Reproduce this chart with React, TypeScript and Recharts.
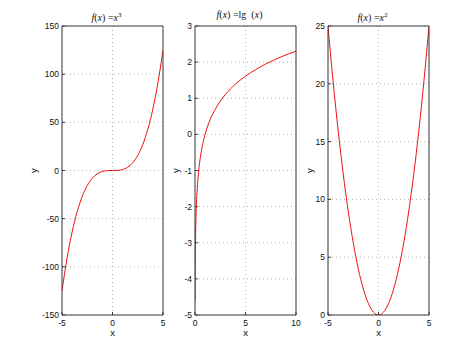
import React from 'react';
import { LineChart, Line, XAxis, YAxis, CartesianGrid } from 'recharts';

// ---- data ----
const cubeX = [-5, -4.5, -4, -3.5, -3, -2.5, -2, -1.5, -1, -0.5, 0, 0.5, 1, 1.5, 2, 2.5, 3, 3.5, 4, 4.5, 5];
const cubeY = [-125, -91.1, -64, -42.9, -27, -15.6, -8, -3.4, -1, -0.1, 0, 0.1, 1, 3.4, 8, 15.6, 27, 42.9, 64, 91.1, 125];

const logX = [0.01, 0.02, 0.05, 0.1, 0.2, 0.3, 0.5, 0.75, 1, 1.5, 2, 2.5, 3, 4, 5, 6, 7, 8, 9, 10];
const logY = [-4.61, -3.91, -3.0, -2.3, -1.61, -1.2, -0.69, -0.29, 0, 0.41, 0.69, 0.92, 1.1, 1.39, 1.61, 1.79, 1.95, 2.08, 2.2, 2.3];

const squareX = [-5, -4.5, -4, -3.5, -3, -2.5, -2, -1.5, -1, -0.5, 0, 0.5, 1, 1.5, 2, 2.5, 3, 3.5, 4, 4.5, 5];
const squareY = [25, 20.25, 16, 12.25, 9, 6.25, 4, 2.25, 1, 0.25, 0, 0.25, 1, 2.25, 4, 6.25, 9, 12.25, 16, 20.25, 25];

const cubeXTicks = [-5, 0, 5];
const cubeYTicks = [-150, -100, -50, 0, 50, 100, 150];
const logXTicks = [0, 5, 10];
const logYTicks = [-5, -4, -3, -2, -1, 0, 1, 2, 3];
const squareXTicks = [-5, 0, 5];
const squareYTicks = [0, 5, 10, 15, 20, 25];

const zip = (xs: number[], ys: number[]) => xs.map((x, i) => ({ x, y: ys[i] }));

// ---- layout ----
const W = 474;
const H = 355;
const PLOT_TOP = 26;
const PLOT_BOTTOM = 315;
const Y_AXIS_W = 40;
const X_AXIS_H = 36;

const AXIS_COLOR = '#3a3a3a';
const TICK_FONT = { fontSize: 8.5, fontFamily: '"Liberation Sans", Arial, sans-serif', fill: '#111' };

type Panel = {
  data: { x: number; y: number }[];
  xDomain: [number, number];
  yDomain: [number, number];
  xTicks: number[];
  yTicks: number[];
  left: number;
  right: number;
  yLabelGap: number;
  title: React.ReactNode;
};

const panels: Panel[] = [
  {
    data: zip(cubeX, cubeY),
    xDomain: [-5, 5],
    yDomain: [-150, 150],
    xTicks: cubeXTicks,
    yTicks: cubeYTicks,
    left: 62,
    right: 163,
    yLabelGap: 29,
    title: (
      <>
        <i>f</i>(<i>x</i>) =<i>x</i>
        <sup style={{ fontSize: 7 }}>3</sup>
      </>
    ),
  },
  {
    data: zip(logX, logY),
    xDomain: [0, 10],
    yDomain: [-5, 3],
    xTicks: logXTicks,
    yTicks: logYTicks,
    left: 195,
    right: 296,
    yLabelGap: 20,
    title: (
      <>
        <i>f</i>(<i>x</i>) =lg&nbsp;&nbsp;(<i>x</i>)
      </>
    ),
  },
  {
    data: zip(squareX, squareY),
    xDomain: [-5, 5],
    yDomain: [0, 25],
    xTicks: squareXTicks,
    yTicks: squareYTicks,
    left: 328,
    right: 429,
    yLabelGap: 19,
    title: (
      <>
        <i>f</i>(<i>x</i>) =<i>x</i>
        <sup style={{ fontSize: 7 }}>2</sup>
      </>
    ),
  },
];

const makeYLabel = (gap: number) => (props: any) => {
  const vb = props.viewBox || {};
  const x = vb.x + vb.width - gap;
  const y = vb.y + vb.height / 2;
  return (
    <text
      x={x}
      y={y}
      transform={`rotate(-90, ${x}, ${y})`}
      textAnchor="middle"
      dominantBaseline="central"
      fontSize={9.5}
      fontFamily='"Liberation Sans", Arial, sans-serif'
      fill="#111"
    >
      y
    </text>
  );
};

function PanelChart({ p }: { p: Panel }) {
  const margin = {
    top: PLOT_TOP - 1,
    bottom: H - PLOT_BOTTOM - X_AXIS_H,
    left: p.left - Y_AXIS_W,
    right: W - p.right - 1,
  };
  return (
    <div style={{ position: 'absolute', left: 0, top: 0 }}>
      <LineChart width={W} height={H} data={p.data} margin={margin}>
        <CartesianGrid stroke="#b5b5b5" strokeDasharray="1 3" xAxisId="b" yAxisId="l" />
        <XAxis
          xAxisId="b"
          dataKey="x"
          type="number"
          domain={p.xDomain}
          ticks={p.xTicks}
          allowDataOverflow
          height={X_AXIS_H}
          stroke={AXIS_COLOR}
          tickSize={-3}
          tickMargin={8}
          tick={TICK_FONT}
          interval={0}
          label={{ value: 'x', position: 'center', fontSize: 9.5, fill: '#111', fontFamily: '"Liberation Sans", Arial, sans-serif' }}
        />
        <XAxis
          xAxisId="t"
          orientation="top"
          type="number"
          domain={p.xDomain}
          ticks={p.xTicks}
          allowDataOverflow
          height={1}
          stroke={AXIS_COLOR}
          tickSize={-3}
          tick={false}
          interval={0}
        />
        <YAxis
          yAxisId="l"
          type="number"
          domain={p.yDomain}
          ticks={p.yTicks}
          allowDataOverflow
          width={Y_AXIS_W}
          stroke={AXIS_COLOR}
          tickSize={-3}
          tickMargin={6}
          tick={TICK_FONT}
          interval={0}
          label={{ position: 'insideLeft', content: makeYLabel(p.yLabelGap) }}
        />
        <YAxis
          yAxisId="r"
          orientation="right"
          type="number"
          domain={p.yDomain}
          ticks={p.yTicks}
          allowDataOverflow
          width={1}
          stroke={AXIS_COLOR}
          tickSize={-3}
          tick={false}
          interval={0}
        />
        <Line
          xAxisId="b"
          yAxisId="l"
          dataKey="y"
          type="monotone"
          stroke="#f01010"
          strokeWidth={1}
          dot={false}
          isAnimationActive={false}
        />
      </LineChart>
      <div
        style={{
          position: 'absolute',
          left: (p.left + p.right) / 2 - 6 - 60,
          width: 120,
          top: 9,
          textAlign: 'center',
          fontFamily: '"Liberation Serif", "Times New Roman", serif',
          fontSize: 10,
          lineHeight: '12px',
          color: '#111',
          whiteSpace: 'nowrap',
        }}
      >
        {p.title}
      </div>
    </div>
  );
}

export default function App() {
  return (
    <div style={{ position: 'absolute', left: 0, top: 0, width: W, height: H, background: '#fff', overflow: 'hidden' }}>
      {panels.map((p, i) => (
        <PanelChart key={i} p={p} />
      ))}
    </div>
  );
}
